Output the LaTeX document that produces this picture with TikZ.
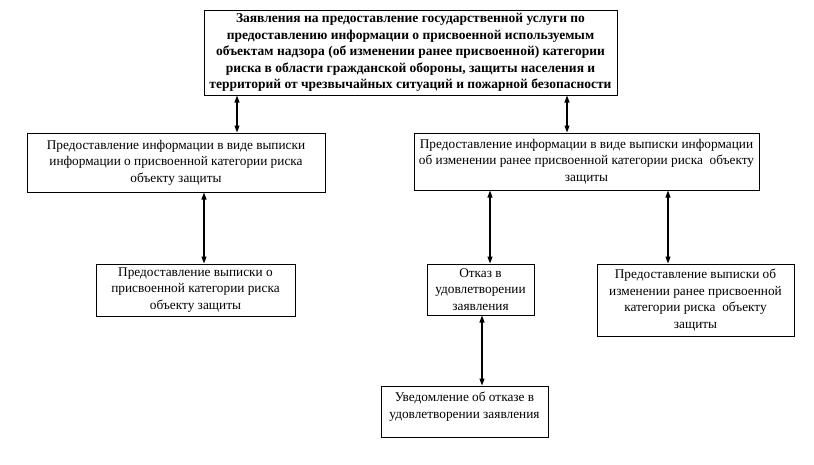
\documentclass[tikz,border=0pt]{standalone}
\usepackage{fontspec}
\setmainfont{Liberation Serif}
\usetikzlibrary{arrows.meta}
\begin{document}
\begin{tikzpicture}[x=1pt,y=-1pt,
  box/.style={draw, line width=1pt, align=center, inner sep=1pt, font=\fontsize{13.3}{16.6}\selectfont},
  tbox/.style={box, font=\fontsize{13.5}{16.6}\selectfont\bfseries},
  arr/.style={line width=1.1pt, {Triangle[width=5pt,length=7pt]}-{Triangle[width=5pt,length=7pt]}}]
\useasboundingbox (0,0) rectangle (814,464);
\node[tbox, minimum width=413pt, minimum height=85pt] (top) at (410.5,52.5)
 {Заявления на предоставление государственной услуги по\\
  предоставлению информации о присвоенной используемым\\
  объектам надзора (об изменении ранее присвоенной) категории\\
  риска в области гражданской обороны, защиты населения и\\
  территорий от чрезвычайных ситуаций и пожарной безопасности};
\node[box, minimum width=298pt, minimum height=59pt] (lm) at (176,162.5)
 {Предоставление информации в виде выписки\\
  информации о присвоенной категории риска\\
  объекту защиты};
\node[box, minimum width=345pt, minimum height=57pt] (rm) at (586.5,161.5)
 {Предоставление информации в виде выписки информации\\
  об изменении ранее присвоенной категории риска\ \ объекту\\
  защиты};
\node[box, minimum width=199pt, minimum height=52pt] (lb) at (195.5,290)
 {Предоставление выписки о\\
  присвоенной категории риска\\
  объекту защиты};
\node[box, minimum width=107pt, minimum height=51pt] (ref) at (480.5,289.5)
 {Отказ в\\ удовлетворении\\ заявления};
\node[box, minimum width=197pt, minimum height=72pt] (rb) at (695.5,300)
 {Предоставление выписки об\\
  изменении ранее присвоенной\\
  категории риска\ \ объекту\\
  защиты};
\node[box, minimum width=167pt, minimum height=51pt, text depth=12pt] (not) at (464.5,411.5)
 {Уведомление об отказе в\\ удовлетворении заявления};
\draw[arr] (top.south -| 237,0) -- (lm.north -| 237,0);
\draw[arr] (top.south -| 567,0) -- (rm.north -| 567,0);
\draw[arr] (lm.south -| 204,0) -- (lb.north -| 204,0);
\draw[arr] (rm.south -| 490,0) -- (ref.north -| 490,0);
\draw[arr] (rm.south -| 668,0) -- (rb.north -| 668,0);
\draw[arr] (ref.south -| 482,0) -- (not.north -| 482,0);
\end{tikzpicture}
\end{document}
